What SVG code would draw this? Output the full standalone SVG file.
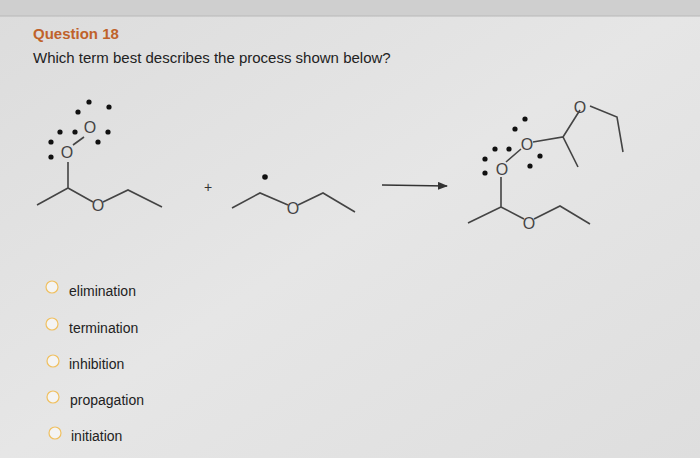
<svg xmlns="http://www.w3.org/2000/svg" width="700" height="458" viewBox="0 0 700 458">
<defs>
<linearGradient id="bg" x1="0" y1="0" x2="1" y2="1"><stop offset="0" stop-color="#dcdcdc"/><stop offset="0.5" stop-color="#e6e6e6"/><stop offset="1" stop-color="#dedede"/></linearGradient>
<marker id="ah" markerWidth="10" markerHeight="8" refX="9" refY="4" orient="auto" markerUnits="userSpaceOnUse"><path d="M0,0 L10,4 L0,8 Z" fill="#333"/></marker>
</defs>
<style>
.b{stroke:#444;stroke-width:1.6;fill:none}
.o{font-family:"Liberation Sans",Arial,sans-serif;font-size:16px;fill:#444;text-anchor:middle}
.d{fill:#111}
.opt{font-family:"Liberation Sans",Arial,sans-serif;font-size:14px;fill:#222}
.rb{fill:#f4f4f4;stroke:#f0c060;stroke-width:1.2}
</style>
<rect width="700" height="458" fill="url(#bg)"/>
<rect width="700" height="16" fill="#cfcfcf"/>
<line x1="0" y1="16" x2="700" y2="16" stroke="#b8b8b8"/>
<text x="33" y="39" font-family="Liberation Sans,Arial,sans-serif" font-size="15" font-weight="bold" fill="#c0622a">Question 18</text>
<text x="33" y="63" font-family="Liberation Sans,Arial,sans-serif" font-size="15" fill="#222">Which term best describes the process shown below?</text>
<g id="reactant1">
<path class="b" d="M68,162 L68,188 L37,205 M68,188 L93,202 M103,202 L128,190 L162,207 M73,145 L84,137"/>
<text class="o" x="67" y="158">O</text><text class="o" x="90" y="133">O</text><text class="o" x="98" y="211">O</text>
<g class="d"><circle cx="51" cy="142" r="2.6"/><circle cx="51" cy="157" r="2.6"/><circle cx="60" cy="132" r="2.6"/><circle cx="75" cy="132" r="2.6"/><circle cx="98" cy="142" r="2.6"/><circle cx="108" cy="132" r="2.6"/><circle cx="78" cy="112" r="2.6"/><circle cx="89" cy="102" r="2.6"/><circle cx="109" cy="107" r="2.6"/></g>
</g>
<g id="plus"><text x="208" y="192" font-family="Liberation Sans,Arial,sans-serif" font-size="14" fill="#333" text-anchor="middle">+</text></g>
<g id="reactant2">
<path class="b" d="M232,208 L260,193 L288,205 M298,205 L323,193 L355,212"/>
<text class="o" x="293" y="214">O</text>
<circle class="d" cx="265" cy="177" r="2.8"/>
</g>
<g id="connectors"><line x1="382" y1="185" x2="447" y2="186" stroke="#333" stroke-width="1.6" marker-end="url(#ah)"/></g>
<g id="product">
<path class="b" d="M501,177 L501,207 L468,223 M501,207 L524,219 M534,219 L560,206 L590,224 M506,162 L521,149 M533,142 L563,137 L578,167 M563,137 L580,110 M590,106 L617,117 L623,152"/>
<text class="o" x="502" y="175">O</text><text class="o" x="527" y="150">O</text><text class="o" x="529" y="229">O</text><text class="o" x="580" y="113">O</text>
<g class="d"><circle cx="525" cy="119" r="2.6"/><circle cx="515" cy="129" r="2.6"/><circle cx="495" cy="149" r="2.6"/><circle cx="509" cy="149" r="2.6"/><circle cx="485" cy="159" r="2.6"/><circle cx="485" cy="173" r="2.6"/><circle cx="540" cy="156" r="2.6"/><circle cx="530" cy="166" r="2.6"/></g>
</g>
<g id="options">
<circle class="rb" cx="52" cy="287" r="6"/><text class="opt" x="69" y="296">elimination</text>
<circle class="rb" cx="52" cy="324" r="6"/><text class="opt" x="69" y="333">termination</text>
<circle class="rb" cx="53" cy="361" r="6"/><text class="opt" x="69" y="369">inhibition</text>
<circle class="rb" cx="53" cy="397" r="6"/><text class="opt" x="70" y="405">propagation</text>
<circle class="rb" cx="55" cy="433" r="6"/><text class="opt" x="71" y="441">initiation</text>
</g>
</svg>
